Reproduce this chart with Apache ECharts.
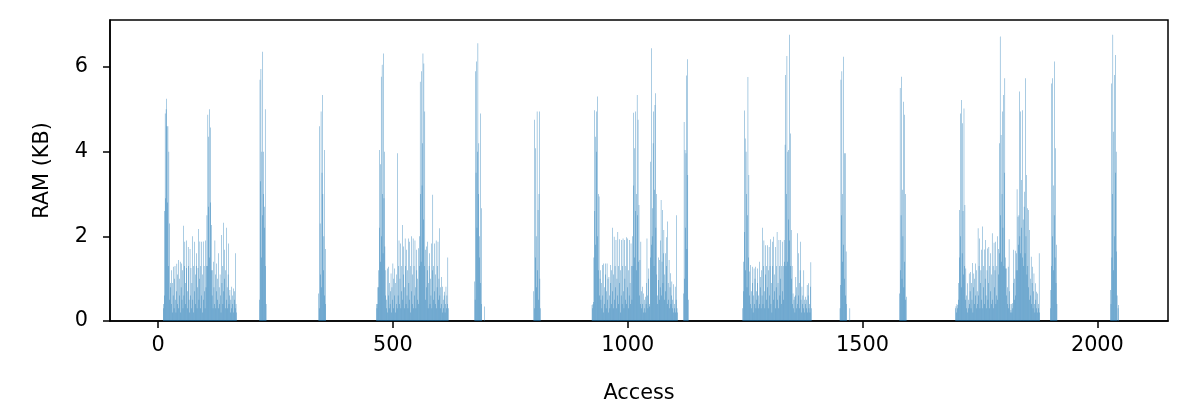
<!DOCTYPE html>
<html>
<head>
<meta charset="utf-8">
<script src="https://cdn.jsdelivr.net/npm/echarts@6/dist/echarts.min.js"></script>
<style>html,body{margin:0;padding:0;background:#fff}#c{width:1200px;height:415px}</style>
</head>
<body>
<div id="c"></div>
<script>
// Each burst of accesses: first access index and RAM (KB) per consecutive access
const burstStarts = [11, 216, 342, 465, 674, 800, 924, 1119, 1245, 1452, 1579, 1698, 1900, 2028];
const burst011 = [0.3,0.4,0.6,2.6,4.9,2.9,5.0,5.25,4.6,2.8,4.6,1.3,4.0,2.3,0.5,0.9,
  0.8,1.2,0.4,0.9,0.2,0.6,1.28,0.3,1.0,1.3, 0.5,0.2,0.7,1.35,0.4,1.1,1.44,0.3,0.6,1.0,
  1.4,0.2,0.8,1.36,0.5,1.2,0.3,2.25,0.6,1.3, 1.87,0.4,0.9,1.25,1.9,0.3,0.7,1.75,1.3,0.5,
  0.2,1.7,0.6,1.25,0.3,0.9,2.0,0.5,1.3,0.2, 1.87,0.7,1.1,0.4,1.3,1.6,0.3,0.8,1.25,2.17,
  0.5,1.0,1.88,0.3,1.3,0.6,1.87,0.2,1.1,1.88, 0.5,1.3,0.7,0.3,1.9,0.8,1.3,
  2.5,1.3,4.87,2.7,4.35,1.5,5.0,2.8,4.57,1.2,2.27,
  0.6,1.2,0.3,1.4,0.8,0.4,1.9,1.1,0.3,0.7, 1.36,0.5,1.0,1.6,0.3,0.8,0.4,1.1,0.6,0.2,
  2.03,0.9,1.3,0.4,2.32,0.7,1.0,1.68,0.3,1.2, 0.5,2.2,0.8,0.3,1.1,1.83,0.4,0.6,0.73,0.2,
  0.5,0.3,0.81,0.4,0.6,0.77,0.2,0.5,0.7,0.3, 1.6,0.4,0.2];
const burst216 = [0.5,5.7,3.3,5.95,1.5,4.0,2.5,6.36,3.0,4.0,2.2,2.7,5.0,1.3,0.4];
const burst342 = [0.65,0.3,4.6,2.3,1.1,4.95,0.8,3.5,5.34,3.0,1.2,2.0,4.04,0.6,1.7,0.4];
const burst465 = [0.4,0.3,0.4,0.8,0.8,1.2,2.2,4.04,3.7,1.4,5.77,2.0,6.05,3.0,1.6,6.32,2.9,4.0,1.76,0.6,1.2,0.3,
  0.5,0.2,1.24,0.6,1.28,0.3,0.9,0.4,0.7,1.12, 0.2,0.8,0.5,1.36,0.3,1.0,0.6,1.24,0.2,0.9,
  0.4,1.1,0.3,3.96,0.6,1.3,1.9,0.4,1.0,1.83, 0.3,0.7,1.3,2.27,0.5,1.1,1.76,0.3,0.8,1.95,
  1.3,0.4,1.68,0.6,1.2,0.3,1.95,0.9,0.5,1.87, 1.3,0.2,0.7,2.0,0.4,1.1,1.95,0.3,1.3,0.6,
  1.9,0.8,0.3,1.68,1.2,0.5,1.0,1.72,0.4,1.3,
  2.0,5.65,3.0,1.4,5.9,3.2,4.2,6.32,2.4,6.08,1.3,4.95,1.68,
  0.5,1.76,0.8,1.2,1.87,0.3,0.9,1.3,1.6,0.4, 1.0,0.6,1.83,0.3,1.2,2.98,0.5,1.3,0.7,1.83,
  0.4,1.1,1.9,0.3,0.8,1.3,1.87,0.5,1.0,2.19, 0.6,0.3,0.8,1.04,0.4,0.2,0.81,0.5,0.3,0.6,
  0.69,0.2,0.4,0.81,0.3,0.6,0.4,1.5,0.3];
const burst674 = [0.93,0.5,5.9,3.5,6.13,2.2,4.0,6.56,3.0,4.2,1.5,2.0,4.9,0.9,2.66,0.4,0,0,0,0,0,0.34];
const burst800 = [0.7,0.3,4.75,1.5,4.08,2.0,0.8,4.95,1.2,2.62,0.5,3.0,4.95,1.0,0.3];
const burst924 = [0.38,0.3,0.4,0.45,1.5,4.98,2.6,4.35,1.8,4.0,4.95,2.0,5.3,1.2,3.0,2.94,0.6,1.0,1.2,
  0.5,0.9,0.3,1.32,0.6,0.2,1.36,0.8,0.4,1.1, 1.36,0.3,0.7,1.36,0.5,1.0,0.2,1.04,0.6,0.3,
  0.9,1.32,0.4,1.2,0.7,2.2,0.3,1.1,1.99,0.5, 1.3,0.8,1.91,0.3,1.0,0.6,2.1,1.3,0.4,0.9,
  1.93,0.2,1.2,0.6,1.91,0.4,1.3,1.95,0.7,0.3, 1.91,1.0,0.5,1.3,1.98,0.4,0.8,1.95,1.2,0.3,
  0.6,1.91,0.9,0.4,1.83,1.3,
  0.5,2.0,1.3,4.92,3.2,4.08,1.5,2.6,4.95,3.0,1.2,5.34,2.5,4.75,1.4,2.74,0.6,1.44,0.4,1.87,0.7,
  0.3,0.81,0.4,0.2,0.65,0.3,0.5,0.2,0.57,0.4,0.9,1.95,0.6,0.3,1.0,1.24,0.4,0.34,1.5,
  3.76,1.8,6.44,2.0,2.66,4.2,4.95,1.3,3.1,5.1,5.38,2.2,3.0,1.1,0.6,
  0.4,0.97,1.5,0.5,1.44,0.8,1.9,2.86,0.6,1.4, 2.62,0.9,1.6,2.15,0.5,1.1,1.6,0.7,1.3,1.98,
  0.4,2.35,0.9,0.5,1.44,0.3,0.8,1.13,0.4,0.6, 0.93,0.3,0.5,0.2,0.87,0.4,0.3,0.81,0.2,0.5,
  2.5,0.3,0.2];
const burst1119 = [0.65,4.7,1.0,4.04,2.2,3.96,5.8,1.7,6.18,3.45,0.5];
const burst1245 = [0.3,0.7,1.4,4.97,2.1,4.31,1.2,4.0,3.0,0.8,2.5,5.76,1.5,3.45,0.6,1.17,
  0.4,1.32,0.7,0.3,1.28,0.9,0.2,0.6,1.24,0.4, 1.0,1.28,0.3,0.7,0.5,1.24,0.9,0.3,0.6,1.4,
  0.4,0.8,1.04,0.3,1.2,0.6,2.2,0.4,1.3,1.9, 0.7,0.3,1.1,1.79,0.5,1.3,1.79,0.8,0.3,1.2,
  1.75,0.6,1.3,1.93,0.4,0.9,0.2,1.87,1.3,0.5, 1.99,0.7,1.1,0.3,1.75,0.8,1.3,2.1,0.5,0.9,
  0.3,1.91,1.3,0.6,1.0,1.91,0.4,1.3,1.87,0.7, 1.3,0.5,1.91,
  1.4,4.16,5.81,1.3,3.0,6.26,1.4,4.0,2.4,4.04,1.9,6.76,4.43,1.3,2.15,1.0,1.3,
  0.4,0.65,0.3,0.5,0.57,0.2,0.6,1.04,0.3,0.8, 0.4,2.07,0.6,1.6,0.9,0.3,1.2,1.87,0.5,0.2,
  0.81,0.4,0.6,0.3,1.2,0.5,0.2,0.57,0.4,0.3, 0.5,0.85,0.2,0.6,0.89,0.3,0.4,0.2,0.81,1.39,0.3];
const burst1452 = [0.3,0.85,5.7,2.5,5.9,1.4,3.0,6.24,1.8,3.96,1.0,3.96,0.6,1.64,0.4,0,0,0,0,0,0,0.3];
const burst1579 = [0.65,5.5,1.2,2.5,5.77,1.0,3.1,2.0,5.18,0.8,4.87,1.4,3.0,0.5,0.57];
const burst1698 = [0.3,0.35,0.2,0.4,0.3,0.38,0.5,0.9,2.62,1.5,4.9,2.0,0.8,5.22,1.6,4.67,2.6,1.1,5.02,1.3,2.74,0.5,1.24,
  0.3,0.6,0.89,0.2,0.5,0.3,1.12,0.4,0.7,1.16, 0.3,0.9,0.5,1.37,0.2,0.8,1.12,0.4,1.0,0.6,
  1.36,0.3,1.2,0.7,0.4,2.19,0.6,1.3,1.95,0.3, 0.9,1.2,1.68,0.5,0.3,2.23,0.8,1.3,1.69,0.4,
  1.0,1.91,0.6,0.3,1.2,1.71,0.5,0.9,1.75,1.3, 0.3,0.7,1.6,0.4,1.1,2.07,0.5,1.3,0.3,1.85,
  0.8,1.2,1.87,0.4,0.6,1.3,2.0,0.5,1.1,1.7,
  4.2,1.6,6.72,2.5,4.39,1.4,3.0,4.95,2.2,5.34,1.3,3.5,5.73,1.5,1.24,
  0.6,1.24,0.4,0.8,1.28,0.3,1.93,0.7,0.4,0.2,0.26,0.4,0.2,0.42,0.3,0.9,1.68,0.5,1.0,1.66,0.6,1.2,
  1.6,3.11,1.2,2.46,1.8,2.5,5.42,2.0,1.6,4.95,2.2,3.33,1.5,4.98,2.4,1.3,2.7,3.05,1.6,5.73,2.0,3.45,1.1,2.66,1.3,
  0.8,2.62,0.5,2.15,1.0,0.6,1.52,0.4,0.9,1.28,0.3,0.7,1.12,0.4,0.2,0.89,0.5,0.3,0.69,0.2,0.65,0.4,0.3,1.6,0.2];
const burst1900 = [0.3,0.73,1.3,5.61,2.0,5.73,1.2,3.2,2.5,6.13,1.5,4.08,0.9,1.8,0.4];
const burst2028 = [0.73,0.4,5.61,1.5,3.0,6.76,4.47,1.2,5.81,2.0,6.28,3.5,4.0,1.64,0.6,0,0.3,0.38];
const bursts = [burst011, burst216, burst342, burst465, burst674, burst800, burst924, burst1119,
  burst1245, burst1452, burst1579, burst1698, burst1900, burst2028];
const xTicks = [0, 500, 1000, 1500, 2000];
const yTicks = [0, 2, 4, 6];
const nAccess = 2048;

const data = [];
bursts.forEach((vals, k) => {
  vals.forEach((v, i) => { if (v > 0) data.push([burstStarts[k] + i, v]); });
});

const pad = nAccess * 0.05;
const xMin = -pad, xMax = nAccess + pad;
const yMax = 6.77 * 1.05;
const plotW = 1168 - 110;
const barPx = 0.8 * plotW / (xMax - xMin);

const font = { fontFamily: 'DejaVu Sans', fontSize: 20.8, color: '#000' };
const plain = v => String(v);
const chart = echarts.init(document.getElementById('c'), null, { renderer: 'canvas' });
chart.setOption({
  animation: false,
  backgroundColor: '#fff',
  grid: { left: 110, right: 32, top: 20, bottom: 94, show: true, borderColor: '#000', borderWidth: 1.5, backgroundColor: 'transparent' },
  xAxis: {
    type: 'value', min: xMin, max: xMax,
    name: 'Access', nameLocation: 'middle', nameGap: 62, nameTextStyle: font,
    axisLine: { show: true, onZero: false, lineStyle: { color: '#000', width: 1.5 } },
    axisTick: { show: true, customValues: xTicks, length: 7, lineStyle: { color: '#000', width: 1.5 } },
    axisLabel: { customValues: xTicks, margin: 14, formatter: plain, ...font },
    splitLine: { show: false }
  },
  yAxis: {
    type: 'value', min: 0, max: yMax,
    name: 'RAM (KB)', nameLocation: 'middle', nameGap: 57, nameTextStyle: font,
    axisLine: { show: true, onZero: false, lineStyle: { color: '#000', width: 1.5 } },
    axisTick: { show: true, customValues: yTicks, length: 7, lineStyle: { color: '#000', width: 1.5 } },
    axisLabel: { customValues: yTicks, margin: 22, formatter: plain, ...font },
    splitLine: { show: false }
  },
  series: [{
    type: 'bar', data: data, barWidth: barPx, barMinWidth: 0.1,
    large: false, progressive: 0,
    itemStyle: { color: '#1f77b4' }
  }]
});
</script>
</body>
</html>
